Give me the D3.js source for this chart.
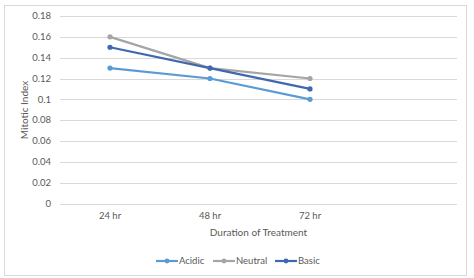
<!DOCTYPE html>
<meta charset="utf-8">
<head>
<style>
body { margin: 0; background: #fff; }
text { font-family: Lato, "Open Sans", sans-serif; fill: #595959; }
.grid line { stroke: #d9d9d9; stroke-width: 1px; }
</style>
</head>
<body>
<script src="https://cdn.jsdelivr.net/npm/d3@7"></script>
<div id="chart"></div>
<script>
  var categories = ["24 hr", "48 hr", "72 hr", ""];
  var yTicks = [0, 0.02, 0.04, 0.06, 0.08, 0.1, 0.12, 0.14, 0.16, 0.18];
  var acidic = [0.13, 0.12, 0.10];
  var neutral = [0.16, 0.13, 0.12];
  var basic = [0.15, 0.13, 0.11];

  var series = [
    {name: "Acidic", values: acidic, color: "#5b9bd5"},
    {name: "Neutral", values: neutral, color: "#a5a5a5"},
    {name: "Basic", values: basic, color: "#4068b0"}
  ];

  var width = 474, height = 278;

  var svg = d3.select("#chart").append("svg")
      .attr("width", width)
      .attr("height", height);

  svg.append("rect")
      .attr("x", 4.5).attr("y", 5.5)
      .attr("width", 462).attr("height", 270)
      .attr("fill", "#fff")
      .attr("stroke", "#d9d9d9");

  var x = d3.scalePoint()
      .domain(categories)
      .range([110, 410]);

  var y = d3.scaleLinear()
      .domain([0, 0.18])
      .range([203.5, 16]);

  // gridlines
  svg.append("g").attr("class", "grid")
    .selectAll("line")
    .data(yTicks)
    .enter().append("line")
      .attr("x1", 60).attr("x2", 457)
      .attr("y1", function(d) { return Math.round(y(d)) + 0.5; })
      .attr("y2", function(d) { return Math.round(y(d)) + 0.5; });

  // y tick labels
  svg.append("g")
    .selectAll("text")
    .data(yTicks)
    .enter().append("text")
      .attr("x", 51)
      .attr("y", function(d) { return y(d) + 3.3; })
      .attr("text-anchor", "end")
      .attr("font-size", "9.5px")
      .text(function(d) { return d; });

  // x labels
  svg.append("g")
    .selectAll("text")
    .data(categories)
    .enter().append("text")
      .attr("x", function(d) { return x(d); })
      .attr("y", 219)
      .attr("text-anchor", "middle")
      .attr("font-size", "9.5px")
      .text(function(d) { return d; });

  svg.append("text")
      .attr("x", 258.5)
      .attr("y", 236)
      .attr("text-anchor", "middle")
      .attr("font-size", "10px")
      .text("Duration of Treatment");

  svg.append("text")
      .attr("transform", "translate(28,110) rotate(-90)")
      .attr("text-anchor", "middle")
      .attr("font-size", "10px")
      .text("Mitotic Index");

  var line = d3.line()
      .x(function(d, i) { return x(categories[i]); })
      .y(function(d) { return y(d); });

  var s = svg.selectAll(".series")
    .data(series)
    .enter().append("g")
      .attr("class", "series");

  s.append("path")
      .attr("d", function(d) { return line(d.values); })
      .attr("fill", "none")
      .attr("stroke", function(d) { return d.color; })
      .attr("stroke-width", 2.2);

  s.selectAll("circle")
    .data(function(d) { return d.values.map(function(v, i) { return {v: v, i: i, color: d.color}; }); })
    .enter().append("circle")
      .attr("cx", function(d) { return x(categories[d.i]); })
      .attr("cy", function(d) { return y(d.v); })
      .attr("r", 2.6)
      .attr("fill", function(d) { return d.color; });

  // legend
  var legendX = [156, 213, 275];
  var lg = svg.selectAll(".legend")
    .data(series)
    .enter().append("g")
      .attr("transform", function(d, i) { return "translate(" + legendX[i] + ",261)"; });

  lg.append("line")
      .attr("x1", 0).attr("x2", 22)
      .attr("stroke", function(d) { return d.color; })
      .attr("stroke-width", 2.2);
  lg.append("circle")
      .attr("cx", 11).attr("r", 2.4)
      .attr("fill", function(d) { return d.color; });
  lg.append("text")
      .attr("x", 23).attr("y", 3.3)
      .attr("font-size", "9.5px")
      .text(function(d) { return d.name; });
</script>
</body>
